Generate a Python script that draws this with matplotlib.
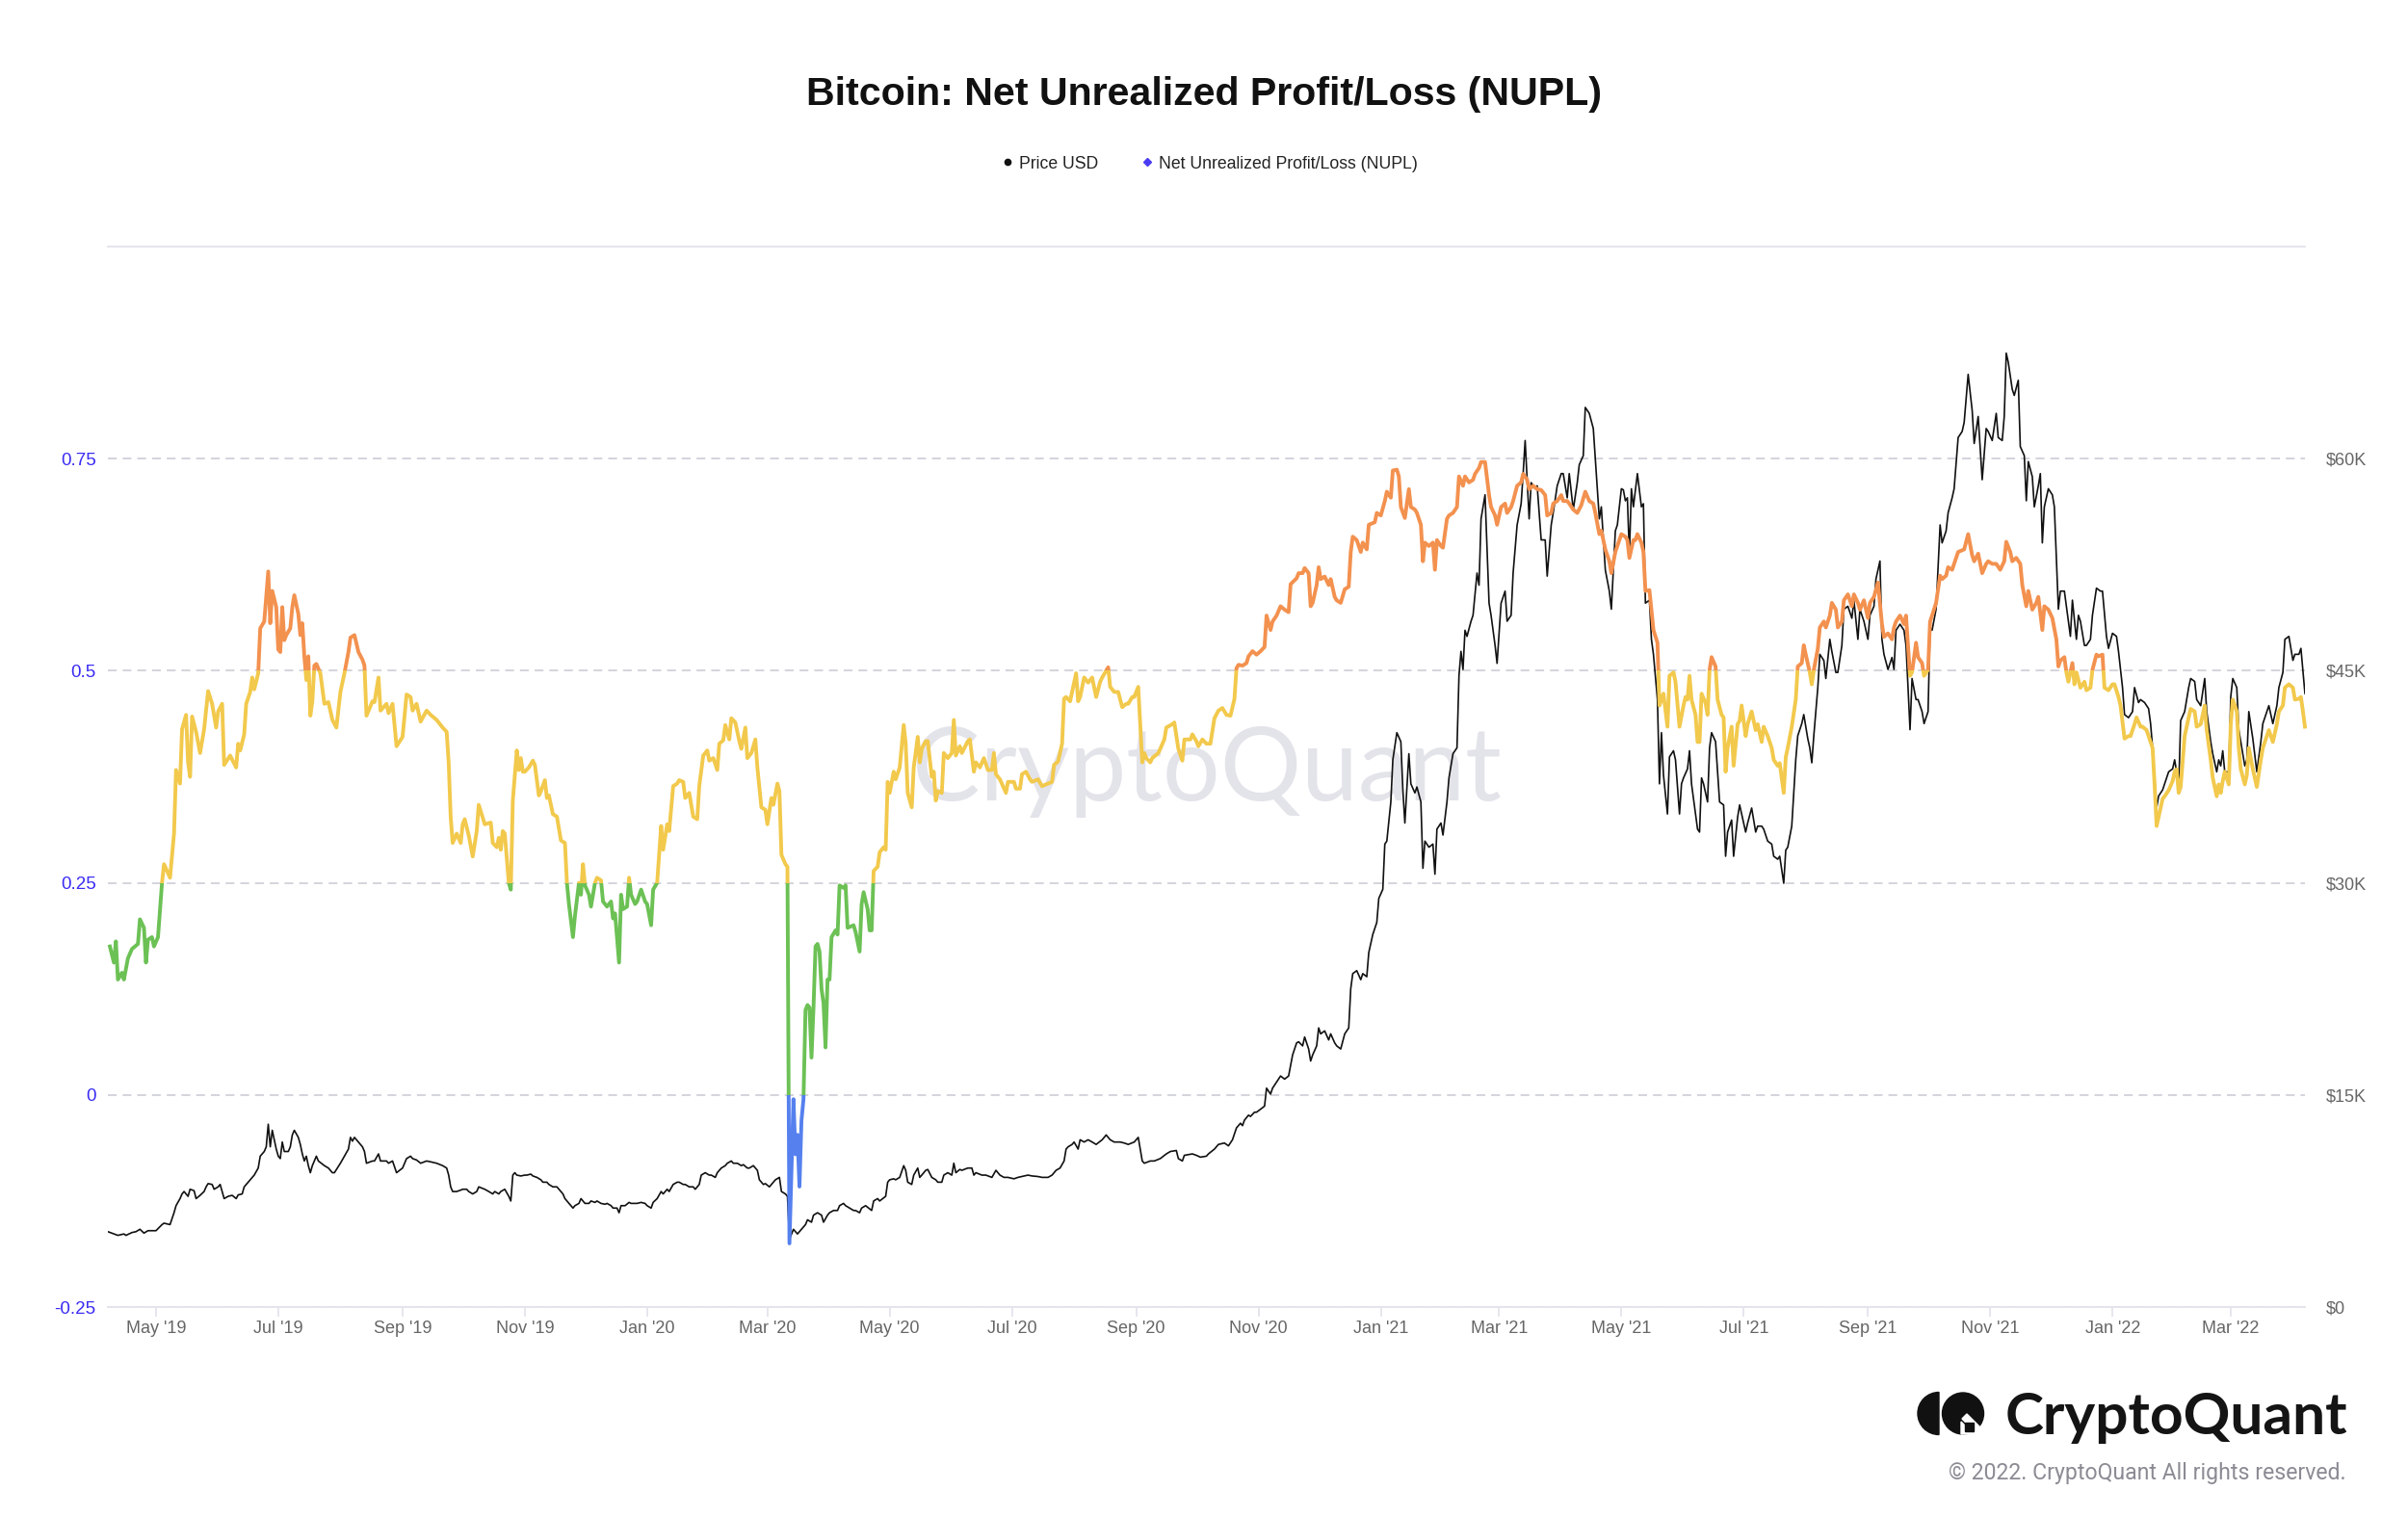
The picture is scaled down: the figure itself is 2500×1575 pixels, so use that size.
import numpy as np
import pandas as pd
import matplotlib
matplotlib.use('Agg')
import matplotlib.pyplot as plt
import matplotlib.dates as mdates
from matplotlib.patches import Rectangle, Wedge, Circle, Polygon
from matplotlib.lines import Line2D
from matplotlib.ticker import FuncFormatter

plt.rcParams['font.family'] = ['Liberation Sans', 'DejaVu Sans']

# Days counted from 2019-05-01
base_date = pd.Timestamp('2019-05-01')

nupl_day = [
    -23, -21, -20, -19, -17, -16, -14, -12, -9, -8, -6, -5, -4, -2, -1, 1, 3, 4, 7, 9, 10, 12, 13, 15, 16,
    17, 18, 20, 22, 24, 26, 28, 30, 31, 33, 34, 37, 40, 41, 42, 44, 45, 47, 48, 49, 51, 52, 54, 56, 57,
    58, 60, 61, 62, 63, 64, 65, 67, 68, 69, 71, 72, 73, 74, 75, 76, 77, 78, 79, 80, 82, 84, 86, 88, 90,
    92, 94, 96, 97, 99, 101, 103, 104, 105, 108, 109, 111, 112, 115, 116, 118, 120, 123, 125, 127, 128, 130, 132, 135, 137,
    140, 143, 145, 146, 147, 148, 150, 152, 153, 154, 156, 158, 160, 161,
    164, 167, 168, 170, 171, 172, 173, 174, 176, 177, 178, 180, 181, 182, 183, 184, 186, 188, 189, 191,
    192, 194, 195, 196, 198, 200, 202, 204, 205, 206, 208, 209, 211, 212, 213, 214, 216, 217, 219, 220,
    222, 223, 225, 227, 228, 229, 231, 232, 233, 235, 236, 237, 239, 240, 242, 244, 245, 247, 248, 250,
    252, 253, 255, 256, 258, 260, 261, 263, 264, 266, 268, 270, 271, 273, 275, 276, 278, 280, 281, 283,
    284, 286, 287, 289, 291, 292, 294, 295, 297, 299, 300, 302, 304, 305, 307, 308, 310, 311, 312, 314,
    315, 316, 318, 319, 320, 321, 322, 323, 324, 325, 326, 327, 328, 329, 330, 331, 332, 333, 334, 335,
    336, 337, 339, 340, 341, 343, 344, 345, 348, 349, 351, 352, 353, 355,
    356, 357, 358, 360, 361, 363, 364, 365, 366, 368, 369, 371, 373, 374, 375, 377, 378, 380, 381, 382,
    384, 385, 387, 388, 389, 390, 392, 393, 395, 397, 398, 399, 401, 402, 405, 406, 408, 409, 411, 413,
    415, 417, 418, 419, 421, 424, 425, 428, 429, 431, 432, 434, 436, 437, 440, 442, 445, 447, 448, 450,
    452, 453, 454, 456, 457, 459, 460, 461, 463, 465, 467, 469, 471, 472, 475, 476, 478, 480, 482, 484,
    485, 487, 488, 490, 492, 493, 494, 496, 497, 500, 501, 503, 504, 507, 508, 510, 512, 513, 516, 517,
    519, 520, 522, 524, 526, 528, 530, 532, 534, 536, 538, 539, 540, 542,
    544, 545, 547, 549, 551, 553, 554, 556, 557, 559, 561, 563, 565, 566, 569, 570, 572, 573, 575, 576,
    577, 579, 580, 581, 583, 585, 586, 588, 589, 591, 593, 595, 596, 597, 599, 601, 602, 604, 605, 608,
    609, 611, 613, 614, 616, 617, 619, 620, 621, 623, 625, 626, 628, 629, 631, 632, 633, 635, 637, 638,
    639, 641, 642, 644, 645, 647, 649, 650, 652, 653, 655, 657, 658, 660, 661, 663, 665, 666, 668, 669,
    671, 673, 674, 676, 677, 679, 681, 682, 684, 685, 687, 689, 691, 693, 694, 696, 697, 699, 701, 702,
    704, 705, 707, 709, 711, 713, 715, 717, 718, 720, 721, 723, 725, 726, 728, 729,
    731, 733, 734, 735, 737, 738, 739, 741, 742, 743, 745, 746, 747, 749, 750, 752, 754, 755, 757, 758,
    760, 762, 763, 764, 765, 766, 768, 769, 770, 771, 773, 774, 775, 776, 778, 779, 781, 782, 783, 784,
    786, 787, 789, 790, 791, 793, 794, 796, 798, 799, 801, 802, 804, 806, 807, 809, 810, 812, 813, 814,
    816, 818, 819, 821, 822, 823, 825, 826, 827, 829, 830, 832, 833, 835, 836, 838, 839, 841, 842, 844,
    846, 847, 849, 850, 852, 854, 855, 857, 859, 861, 862, 864, 866, 867, 868, 870, 872, 873, 875, 876,
    878, 879, 881, 882, 884, 885, 886, 888, 890, 891, 893, 894, 896, 897, 899, 901, 902, 904, 906, 907,
    909, 911, 913, 914, 916,
    918, 920, 922, 923, 925, 926, 928, 930, 931, 933, 934, 936, 938, 939, 941, 942, 944, 946, 948, 949,
    950, 952, 953, 954, 956, 957, 958, 960, 962, 963, 965, 966, 968, 969, 971, 972, 974, 976, 977, 979,
    980, 982, 984, 985, 987, 988, 990, 991, 993, 994, 996, 997, 998, 1000, 1001, 1002, 1004, 1006, 1007, 1008,
    1009, 1010, 1012, 1014, 1015, 1017, 1018, 1020, 1022, 1023, 1025, 1026, 1028, 1029, 1030, 1031, 1032, 1034, 1035, 1036,
    1038, 1039, 1040, 1042, 1043, 1044, 1046, 1048, 1050, 1051, 1053, 1054, 1056, 1058, 1059, 1061, 1062, 1064, 1066, 1067,
    1069, 1070, 1071, 1072,
]
nupl_val = [
    .175, .156, .181, .136, .144, .136, .161, .172, .178, .207, .197, .156, .183, .186, .175, .186, .25, .272, .256, .308, .383, .367, .431, .448, .392,
    .375, .446, .428, .403, .431, .476, .461, .433, .452, .461, .389, .4, .386, .414, .406, .425, .461, .475, .492, .478, .497, .55, .558, .617, .556,
    .594, .575, .525, .522, .575, .536, .542, .55, .575, .589, .567, .542, .556, .517, .489, .517, .447, .464, .506, .508, .497, .461, .463, .442, .433,
    .475, .497, .522, .539, .542, .522, .513, .506, .447, .464, .463, .492, .453, .461, .45, .461, .411, .422, .472, .469, .453, .461, .44, .453, .448,
    .442, .433, .428, .392, .328, .297, .308, .297, .319, .325, .306, .281, .311, .342,
    .319, .321, .297, .292, .303, .289, .311, .308, .25, .242, .347, .406, .383, .397, .381, .381, .386, .394, .389, .353,
    .358, .371, .35, .353, .331, .328, .3, .297, .25, .225, .186, .211, .25, .236, .272, .247, .236, .222, .25, .256,
    .253, .228, .222, .228, .208, .214, .156, .236, .219, .222, .256, .236, .225, .228, .242, .228, .225, .2, .242, .25,
    .317, .289, .319, .311, .364, .367, .371, .369, .35, .356, .328, .325, .364, .4, .406, .394, .397, .383, .414, .418,
    .436, .419, .444, .439, .417, .408, .433, .397, .403, .419, .386, .339, .336, .319, .35, .342, .367, .358, .283, .272,
    .269, -.175, -.005, -.07, -.047, -.108, -.03, -.005, .1, .106, .103, .044, .103, .175, .178, .169, .125, .108, .056, .136,
    .136, .186, .194, .189, .247, .244, .247, .197, .2, .192, .169, .225, .239, .219,
    .194, .194, .264, .269, .286, .292, .289, .369, .356, .381, .372, .386, .436, .414, .356, .339, .386, .422, .392, .408,
    .417, .417, .375, .381, .347, .358, .356, .403, .397, .403, .442, .4, .411, .403, .417, .419, .381, .392, .386, .397,
    .383, .383, .403, .378, .372, .356, .369, .369, .361, .361, .378, .381, .372, .369, .372, .364, .367, .369, .389, .393,
    .414, .467, .469, .464, .475, .497, .464, .469, .492, .486, .492, .469, .487, .492, .504, .481, .475, .475, .457, .461,
    .461, .469, .469, .481, .392, .403, .397, .392, .397, .403, .408, .419, .433, .437, .439, .408, .394, .419, .419, .425,
    .417, .411, .419, .414, .414, .444, .453, .456, .448, .447, .467, .503, .507, .506,
    .509, .517, .523, .519, .523, .528, .565, .548, .558, .565, .576, .572, .569, .602, .609, .615, .615, .621, .615, .576,
    .58, .601, .622, .608, .611, .601, .608, .587, .583, .58, .596, .599, .64, .658, .654, .64, .651, .643, .672, .675,
    .686, .683, .7, .711, .704, .736, .737, .729, .693, .68, .714, .693, .69, .686, .672, .629, .651, .647, .651, .619,
    .654, .647, .645, .679, .683, .686, .693, .729, .718, .729, .722, .725, .732, .739, .746, .746, .707, .693, .683, .672,
    .693, .697, .686, .693, .7, .718, .722, .732, .725, .714, .718, .714, .713, .707, .683, .686, .697, .7, .707, .7,
    .7, .697, .69, .686, .695, .711, .7, .697, .686, .661, .665, .643, .629, .615, .64, .647,
    .661, .658, .654, .633, .654, .654, .661, .651, .64, .594, .595, .572, .548, .533, .459, .473, .434, .494, .498, .487,
    .434, .459, .469, .466, .494, .466, .448, .416, .416, .473, .462, .448, .501, .516, .505, .466, .448, .445, .381, .409,
    .434, .388, .437, .441, .459, .423, .437, .452, .43, .437, .416, .434, .423, .409, .395, .388, .391, .356, .398, .409,
    .434, .466, .505, .509, .53, .519, .498, .484, .501, .526, .551, .558, .551, .565, .58, .572, .551, .558, .583, .59,
    .576, .59, .58, .572, .583, .562, .58, .587, .604, .555, .54, .544, .537, .551, .558, .565, .555, .565, .494, .498,
    .533, .516, .509, .494, .501, .558, .565, .58, .612, .608, .612, .622, .619, .626, .64, .642, .643, .661, .636, .629,
    .638, .615, .626, .629, .626,
    .626, .619, .629, .652, .64, .629, .633, .626, .601, .576, .594, .572, .58, .587, .548, .576, .572, .562, .537, .505,
    .512, .516, .498, .487, .509, .484, .498, .48, .487, .477, .48, .501, .519, .517, .519, .48, .477, .484, .484, .469,
    .459, .42, .423, .423, .437, .445, .434, .434, .43, .423, .409, .366, .317, .338, .349, .352, .359, .37, .381, .384,
    .356, .363, .423, .445, .455, .452, .434, .437, .459, .43, .395, .374, .352, .366, .356, .37, .381, .366, .437, .466,
    .452, .409, .384, .366, .377, .409, .384, .363, .395, .409, .423, .43, .416, .437, .452, .459, .48, .484, .48, .466,
    .467, .469, .452, .434,
]

price_day = [
    -24, -21, -19, -16, -15, -12, -10, -8, -6, -4, -2, 0, 3, 4, 7, 9, 10, 12, 13, 14, 16, 17, 19, 20, 22,
    24, 25, 26, 28, 29, 31, 32, 34, 36, 38, 40, 41, 43, 44, 46, 48, 49, 51, 52, 54, 55, 56, 57, 58, 60,
    61, 62, 63, 64, 66, 67, 68, 69, 71, 72, 73, 74, 75, 76, 77, 78, 80, 81, 84, 86, 88, 89, 92, 94, 96,
    97, 98, 99, 101, 103, 104, 105, 108, 109, 111, 112, 115, 116, 118, 120, 123, 125, 127, 128, 130, 132, 135, 137, 140,
    143, 145, 146, 147, 148, 150, 152, 153, 155, 156, 158, 160, 161,
    164, 166, 168, 169, 171, 172, 174, 176, 177, 178, 179, 180, 182, 184, 185, 187, 188, 190, 192, 193,
    195, 196, 198, 200, 201, 203, 204, 206, 208, 209, 211, 212, 214, 216, 217, 219, 220, 222, 224, 225,
    227, 228, 230, 231, 232, 234, 236, 237, 239, 240, 242, 244, 245, 247, 248, 250, 252, 253, 255, 256,
    258, 260, 261, 263, 264, 266, 268, 269, 271, 272, 274, 276, 277, 279, 280, 282, 284, 285, 287, 288,
    290, 292, 293, 295, 296, 298, 300, 301, 303, 304, 306, 308, 309, 311, 312, 314, 315, 316, 318, 319,
    320, 322, 324, 325, 327, 328, 330, 332, 333, 335, 336, 338, 340, 341, 343, 344, 346, 348, 349, 351,
    352, 354,
    357, 358, 360, 361, 364, 365, 366, 368, 369, 371, 373, 374, 375, 377, 378, 380, 381, 382, 384, 385,
    387, 389, 390, 392, 393, 395, 397, 398, 399, 401, 402, 405, 407, 408, 409, 412, 414, 417, 419, 421,
    423, 425, 428, 430, 433, 435, 437, 440, 442, 445, 447, 449, 451, 453, 454, 455, 457, 458, 460, 461,
    463, 465, 467, 469, 472, 474, 476, 478, 481, 483, 485, 488, 490, 492, 493, 496, 498, 501, 504, 506,
    509, 510, 512, 513, 517, 519, 521, 524, 525, 528, 530, 533, 535, 537, 539, 541, 542,
    543, 545, 546, 548, 549, 551, 553, 554, 556, 557, 559, 561, 563, 565, 567, 569, 570, 572, 573, 575,
    576, 577, 579, 580, 581, 583, 585, 586, 588, 589, 591, 593, 595, 596, 597, 599, 601, 602, 604, 605,
    607, 609, 610, 612, 613, 614, 616, 617, 619, 621, 622, 623, 625, 626, 628, 629, 631, 632, 633, 635,
    637, 638, 639, 641, 642, 644, 645, 647, 649, 650, 651, 652, 653, 654, 656, 657, 659, 660, 661, 663,
    665, 666, 668, 669, 671, 673, 674, 676, 677, 679, 681, 682, 683, 685, 686, 688, 689, 691, 693, 694,
    696, 697, 699, 701, 702, 704, 705, 707, 709, 710, 712, 713, 715, 717, 718, 720, 721, 723, 725, 726,
    728, 729,
    731, 732, 733, 734, 735, 736, 737, 739, 741, 742, 743, 745, 746, 747, 749, 750, 751, 752, 754, 755,
    757, 758, 760, 761, 762, 764, 765, 766, 767, 769, 770, 771, 772, 774, 775, 776, 778, 779, 780, 782,
    783, 784, 786, 787, 789, 790, 791, 793, 794, 796, 798, 799, 801, 802, 804, 806, 807, 809, 810, 812,
    813, 814, 816, 818, 819, 821, 822, 824, 825, 826, 827, 829, 830, 832, 833, 835, 836, 838, 839, 841,
    842, 844, 846, 847, 849, 850, 852, 854, 855, 857, 858, 860, 861, 862, 864, 866, 867, 868, 870, 872,
    873, 875, 876, 878, 879, 881, 882, 884, 885, 886, 888, 890, 891, 893, 894, 896, 897, 899, 901, 902,
    904, 906, 907, 909, 911, 913, 914, 916,
    918, 919, 921, 922, 923, 924, 926, 927, 929, 930, 932, 933, 934, 936, 937, 939, 940, 941, 942, 944,
    946, 947, 949, 950, 952, 954, 955, 956, 958, 959, 960, 962, 963, 965, 966, 968, 970, 971, 973, 974,
    976, 978, 979, 981, 982, 984, 986, 987, 989, 990, 992, 994, 995, 996, 998, 999, 1001, 1002, 1004, 1006,
    1007, 1008, 1009, 1010, 1012, 1014, 1015, 1017, 1018, 1020, 1022, 1023, 1025, 1026, 1028, 1029, 1030, 1031, 1032, 1034,
    1035, 1036, 1038, 1039, 1040, 1042, 1043, 1044, 1046, 1048, 1050, 1051, 1053, 1054, 1056, 1058, 1059, 1061, 1062, 1064,
    1066, 1067, 1069, 1070, 1072,
]
price_usd = [
    5330, 5170, 5070, 5170, 5070, 5270, 5330, 5500, 5230, 5400, 5400, 5400, 5830, 5930, 5830, 6670, 7170, 7670, 8000, 8170, 7830, 8330, 8230, 7670, 7900,
    8170, 8500, 8730, 8670, 8330, 8500, 8670, 7670, 7830, 7900, 7670, 7930, 8000, 8500, 8830, 9170, 9330, 9830, 10670, 11000, 11330, 12930, 11330, 12500, 11170,
    10670, 10500, 11670, 11000, 11000, 11330, 12170, 12500, 12000, 11500, 10830, 10330, 10670, 10000, 9500, 10000, 10670, 10330, 10000, 9830, 9500, 9500, 10170, 10670, 11170,
    12000, 11730, 12000, 11670, 11330, 11000, 10170, 10330, 10330, 10830, 10330, 10330, 10170, 10330, 9500, 9830, 10500, 10670, 10500, 10400, 10170, 10330, 10270, 10170,
    10000, 9830, 9330, 8500, 8170, 8170, 8270, 8330, 8330, 8170, 8000, 8170, 8500,
    8330, 8170, 8000, 8170, 8000, 8170, 8330, 7830, 7500, 9330, 9500, 9330, 9270, 9330, 9330, 9400, 9270, 9170, 9000, 8830,
    8830, 8670, 8500, 8500, 8330, 8000, 7670, 7330, 7000, 7170, 7330, 7670, 7330, 7330, 7500, 7400, 7500, 7330, 7270, 7330,
    7170, 7000, 7000, 6670, 7170, 7170, 7400, 7330, 7330, 7330, 7400, 7330, 7170, 7000, 7400, 7670, 8170, 8000, 8330, 8170,
    8670, 8830, 8830, 8670, 8670, 8500, 8500, 8330, 8670, 9330, 9500, 9330, 9330, 9170, 9500, 9830, 10000, 10170, 10330, 10170,
    10170, 10000, 10070, 9830, 9830, 10000, 9670, 9000, 8670, 8730, 8500, 8830, 9000, 9170, 8170, 8000, 7830, 4800, 5500, 5330,
    5170, 5500, 5830, 6170, 6000, 6500, 6670, 6500, 6000, 6500, 6670, 6830, 6830, 7170, 7330, 7170, 7000, 6830, 6830, 6670,
    7000, 7170,
    6830, 7500, 7670, 7500, 7830, 8830, 9000, 9070, 9000, 9170, 10000, 9670, 8830, 8670, 9330, 9830, 9170, 9330, 9670, 9730,
    9170, 9000, 8830, 8830, 9330, 9500, 9330, 10170, 9500, 9730, 9670, 9830, 9830, 9330, 9500, 9330, 9330, 9170, 9670, 9330,
    9170, 9170, 9070, 9170, 9270, 9330, 9270, 9230, 9170, 9170, 9330, 9670, 9830, 10330, 11170, 11330, 11500, 11670, 11170, 11830,
    11670, 11830, 11670, 11500, 11830, 12170, 11830, 11670, 11670, 11600, 11500, 11670, 12000, 10330, 10170, 10330, 10330, 10500, 10830, 11000,
    11070, 10500, 10330, 10730, 10830, 10730, 10600, 10670, 10830, 11170, 11500, 11600, 11400, 11830, 12670, 13000, 12830,
    13220, 13570, 13480, 13780, 13780, 13990, 14210, 15480, 15060, 15480, 15910, 16340, 16120, 16340, 17830, 18680, 18760, 18470, 19100, 18250,
    17400, 17830, 18470, 19740, 19320, 19530, 18890, 19320, 18680, 18470, 18250, 19320, 19740, 22510, 23580, 23790, 23150, 23580, 23360, 25070,
    26350, 27200, 28900, 29540, 32740, 32950, 35720, 38700, 40620, 39980, 36570, 34230, 39130, 37000, 36360, 36780, 35720, 31030, 32950, 32520,
    32740, 30610, 33800, 34230, 33380, 35720, 37420, 39130, 39550, 44660, 46370, 45090, 47860, 47430, 48500, 48920, 51910, 51050, 55740, 57440,
    49780, 48920, 46790, 45520, 49780, 50630, 48500, 48920, 51910, 55310, 56810, 58940, 61280, 55740, 58300, 57870, 58080, 54250, 54250, 51690,
    55310, 56170, 58080, 58940, 58940, 57230, 58940, 56380, 58300, 59570, 60210, 63620, 63200, 62130, 60000, 55740, 56590, 52120, 50630, 49350,
    54890, 55310,
    57870, 57790, 57020, 57230, 53180, 57870, 56590, 58940, 56590, 56810, 49780, 49990, 47220, 46160, 42960, 37000, 40620, 37640, 34870, 38910,
    39340, 38700, 34870, 37000, 37420, 38060, 39340, 37000, 35930, 33800, 33590, 37420, 37000, 35720, 39550, 40620, 39980, 37850, 35720, 35510,
    31880, 33590, 34440, 31880, 34650, 35510, 34870, 33590, 34230, 35290, 33590, 34010, 34010, 33800, 32950, 32740, 31880, 31670, 31880, 29970,
    32310, 32520, 34010, 38700, 40400, 41260, 41900, 40190, 39550, 38490, 40400, 43810, 46160, 45730, 44450, 47220, 46370, 44880, 44880, 46790,
    49350, 49560, 48710, 49990, 47220, 49350, 48500, 47220, 48920, 49560, 51480, 52760, 47220, 46160, 45090, 45940, 45090, 47860, 48290, 47860,
    46790, 40830, 44450, 42960, 42960, 42110, 41260, 42110, 48070, 47860, 49350, 55310, 54040, 54890, 56170, 57230, 57870, 61490, 61920, 62560,
    65960, 63410, 61070, 62980, 58510, 62130, 61920, 61280,
    63200, 61490, 61280, 62980, 67460, 66820, 64900, 64470, 65540, 60850, 60210, 57020, 59790, 58720, 56590, 58080, 58940, 54040, 56590, 57870,
    57440, 56590, 49350, 50630, 50630, 48500, 47430, 49990, 47220, 48920, 48500, 46790, 46790, 47220, 48920, 50840, 50630, 50630, 47430, 46580,
    47650, 47430, 46370, 43810, 41900, 41680, 42110, 43810, 42750, 42960, 42750, 42320, 41260, 39550, 35290, 36140, 36570, 37000, 37850, 38060,
    38700, 37850, 36570, 41470, 42110, 43810, 44450, 44240, 42960, 42530, 44450, 42110, 39980, 39130, 37850, 38700, 38270, 39340, 37850, 37850,
    43170, 44450, 43810, 40830, 39980, 38270, 38700, 42110, 40190, 37850, 39980, 41260, 42110, 42530, 41260, 42530, 43810, 44880, 47220, 47430,
    45730, 46160, 46160, 46580, 43390,
]

# NUPL colour zones (lower bound, upper bound, colour)
zone_lo = [-1.0, 0.0, 0.25, 0.5, 0.75]
zone_hi = [0.0, 0.25, 0.5, 0.75, 2.0]
zone_col = ['#5580ee', '#6cc155', '#f2c94c', '#f3914f', '#e4574b']

left_ticks = [-0.25, 0, 0.25, 0.5, 0.75]
right_ticks = [0, 15000, 30000, 45000, 60000]

nupl_dates = base_date + pd.to_timedelta(nupl_day, unit='D')
price_dates = base_date + pd.to_timedelta(price_day, unit='D')

fig = plt.figure(figsize=(25, 15.75), dpi=100)
ax = fig.add_axes([0.0448, 0.1384, 0.9124, 0.6991])
ax2 = ax.twinx()
ax.set_zorder(ax2.get_zorder() + 1)
ax.patch.set_visible(False)

# price line on the right axis
ax2.plot(price_dates, price_usd, color='#111111', lw=1.2, zorder=2)
ax2.set_ylim(0, 75000)
ax2.set_yticks(right_ticks)
ax2.yaxis.set_major_formatter(FuncFormatter(lambda v, p: '$0' if v == 0 else f'${int(v / 1000)}K'))
ax2.tick_params(axis='y', length=0, pad=16, labelsize=13, labelcolor='#666666')
ax2.grid(axis='y', color='#c9c9d3', lw=1.1, linestyle=(0, (6, 4)))
ax2.set_axisbelow(True)
for s in ax2.spines.values():
    s.set_visible(False)

# watermark
ax2.text(0.5, 0.505, 'CryptoQuant', transform=ax2.transAxes, ha='center', va='center',
         fontsize=76, color='#e3e3ea', family=['Lato', 'DejaVu Sans'], zorder=0)

# NUPL line, coloured by zone
x_lo = mdates.date2num(nupl_dates.min()) - 30
x_hi = mdates.date2num(nupl_dates.max()) + 30
for lo, hi, col in zip(zone_lo, zone_hi, zone_col):
    ln, = ax.plot(nupl_dates, nupl_val, color=col, lw=2.8, solid_joinstyle='round', zorder=3)
    clip = Rectangle((x_lo, lo), x_hi - x_lo, hi - lo, transform=ax.transData)
    ln.set_clip_path(clip)

ax.set_ylim(-0.25, 1.0)
ax.set_yticks(left_ticks)
ax.set_yticklabels(['-0.25', '0', '0.25', '0.5', '0.75'])
ax.tick_params(axis='y', length=0, pad=9, labelsize=13.5, labelcolor='#3b2cf2')
ax.set_xlim(min(nupl_dates.min(), price_dates.min()), max(nupl_dates.max(), price_dates.max()))

ax.xaxis.set_major_locator(mdates.MonthLocator(bymonth=[1, 3, 5, 7, 9, 11]))
ax.xaxis.set_major_formatter(mdates.DateFormatter("%b '%y"))
ax.tick_params(axis='x', length=7, width=1.2, color='#e2e2ea', pad=3, labelsize=13, labelcolor='#666666')

for side in ['left', 'right']:
    ax.spines[side].set_visible(False)
for side in ['top', 'bottom']:
    ax.spines[side].set_color('#e4e4ec')
    ax.spines[side].set_linewidth(1.4)

# title and legend
fig.text(0.5, 0.938, 'Bitcoin: Net Unrealized Profit/Loss (NUPL)', ha='center', va='center',
         fontsize=29.6, fontweight='bold', color='#111111')
handles = [
    Line2D([], [], marker='o', linestyle='none', color='#111111', markersize=4.5),
    Line2D([], [], marker='D', linestyle='none', color='#4a3cf2', markersize=4),
]
fig.legend(handles, ['Price USD', 'Net Unrealized Profit/Loss (NUPL)'], loc='center',
           bbox_to_anchor=(0.5025, 0.892), ncol=2, frameon=False, fontsize=12.7,
           handlelength=0.6, handletextpad=0.35, columnspacing=2.6, labelcolor='#222222')

# logo and copyright, drawn in a pixel-space overlay
over = fig.add_axes([0, 0, 1, 1], zorder=5)
over.set_xlim(0, 2500)
over.set_ylim(1575, 0)
over.axis('off')
over.add_patch(Wedge((2013, 1467.5), 22, 90, 270, color='#111111'))
over.add_patch(Circle((2038, 1467.5), 21.5, color='#111111'))
over.add_patch(Polygon([(2042, 1468), (2063, 1489), (2058, 1494), (2037, 1473)], closed=True, color='white'))
over.add_patch(Polygon([(2036, 1476), (2049, 1489), (2036, 1489)], closed=True, color='white'))
over.add_patch(Rectangle((2040, 1477), 9, 9, angle=0, color='#111111'))
over.text(2437, 1489, 'CryptoQuant', ha='right', va='baseline', fontsize=43.5,
          family=['Lato', 'DejaVu Sans'], fontweight='bold', color='#141414')
over.text(2436, 1536, '\u00a9 2022. CryptoQuant All rights reserved.', ha='right', va='baseline',
          fontsize=16.6, family=['Roboto', 'DejaVu Sans'], color='#8b8b94')

fig.savefig('out.png', dpi=100, facecolor='white')
